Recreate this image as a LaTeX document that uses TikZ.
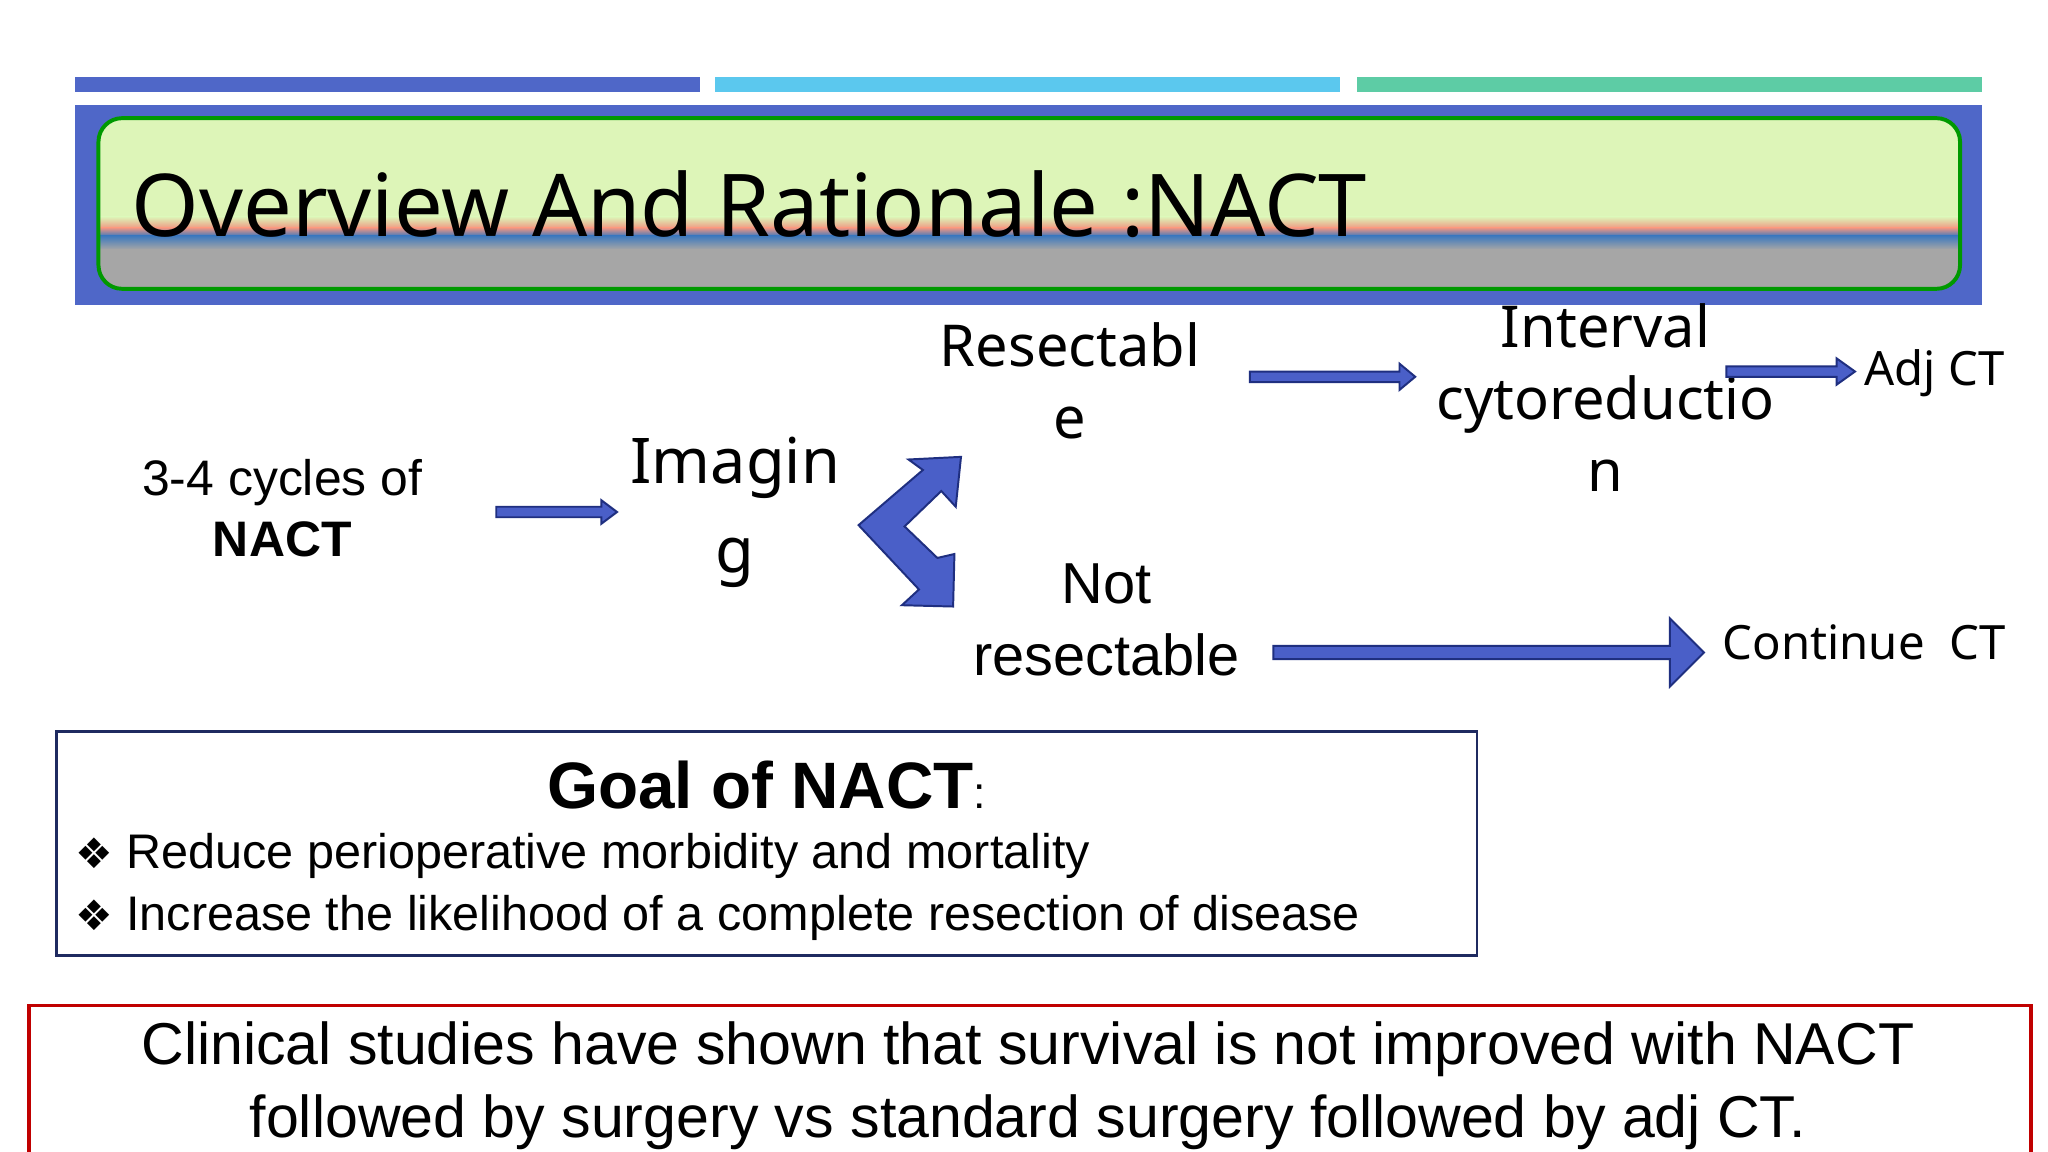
\documentclass[tikz,border=0pt]{standalone}
\usepackage{fontspec}
\setmainfont{Liberation Sans}
\newfontfamily\noto{Noto Sans}
\newfontfamily\dejavu{DejaVu Sans}
\definecolor{barblue}{HTML}{4F67C8}
\definecolor{barcyan}{HTML}{5BC8EE}
\definecolor{barteal}{HTML}{5DCCA5}
\definecolor{arrblue}{HTML}{4A5FC8}
\definecolor{arrline}{HTML}{1F2F80}
\definecolor{navy}{HTML}{1F2A60}
\definecolor{lgreen}{HTML}{DDF5B8}
\definecolor{dred}{HTML}{C00000}
\newcommand\blockarrow[6]{% x1 x2 y halfshaft halfhead headlen
  \filldraw[arrowshape] (#1,#3-#4) -- (#2-#6,#3-#4) -- (#2-#6,#3-#5) -- (#2,#3) -- (#2-#6,#3+#5) -- (#2-#6,#3+#4) -- (#1,#3+#4) -- cycle;}
\tikzset{
  arrowshape/.style={fill=arrblue, draw=arrline, line width=1.5pt, line join=miter},
  txt/.style={inner sep=0pt, align=center, text=black},
}
\begin{document}
\begin{tikzpicture}[x=1pt,y=-1pt]
\useasboundingbox (0,0) rectangle (1560,877.5);
\fill[white] (0,0) rectangle (1560,877.5);
% top bars
\fill[barblue] (57,59) rectangle (533,70);
\fill[barcyan] (545,59) rectangle (1021,70);
\fill[barteal] (1034,59) rectangle (1510,70);
% title
\fill[barblue] (57,80) rectangle (1510,232);
\begin{scope}
\clip[rounded corners=18pt] (75,90) rectangle (1493,220);
\fill[lgreen] (75,90) rectangle (1493,166);
\shade[top color=lgreen, bottom color={rgb,255:red,240;green,150;blue,130}] (75,165) rectangle (1493,174);
\shade[top color={rgb,255:red,240;green,150;blue,130}, bottom color={rgb,255:red,60;green,120;blue,190}] (75,173.5) rectangle (1493,180);
\shade[top color={rgb,255:red,60;green,120;blue,190}, bottom color={rgb,255:red,166;green,166;blue,166}] (75,179.5) rectangle (1493,190);
\fill[gray!70] (75,189.5) rectangle (1493,220);
\end{scope}
\draw[green!60!black, line width=3pt, rounded corners=18pt] (75,90) rectangle (1493,220);
\node[txt, anchor=base west, font=\noto\fontsize{66}{70}\selectfont] (title) at (100,180) {Overview And Rationale :NACT};
% flow
\node[txt, font=\fontsize{38}{47}\selectfont] (cyc) at (215,387) {3-4 cycles of\\\textbf{NACT}};
\blockarrow{378}{470}{390}{4}{9}{12}
\node[txt, font=\noto\fontsize{48}{68}\selectfont] (img) at (560,390) {Imagin\\g};
\filldraw[arrowshape] (654,400) -- (703,358) -- (692,350) -- (732,348) -- (728,386) -- (717,374) -- (689,401) -- (714,425) -- (727,422) -- (726,462) -- (687,461) -- (700,449) -- cycle;
\node[txt, font=\noto\fontsize{44}{55}\selectfont] (res) at (815,290) {Resectabl\\e};
\blockarrow{952}{1078}{287}{4}{10}{12}
\node[txt, font=\noto\fontsize{44}{55}\selectfont] (int) at (1223,303) {Interval\\cytoreductio\\n};
\blockarrow{1315}{1413}{283}{4}{10}{14}
\node[txt, anchor=west, font=\noto\fontsize{36}{40}\selectfont] (adj) at (1420,284) {Adj CT};
\node[txt, font=\fontsize{44}{55}\selectfont] (not) at (843,472) {Not\\resectable};
\blockarrow{970}{1298}{497}{5}{26}{26}
\node[txt, anchor=west, font=\noto\fontsize{36}{40}\selectfont] (cont) at (1312,489) {Continue\ \ CT};
% goal box
\draw[navy, line width=2pt] (43,557) rectangle (1125,728);
\node[txt, font=\fontsize{50}{55}\selectfont] (goal) at (584,598) {\textbf{Goal of NACT}\fontsize{34}{40}\selectfont:};
\node[txt, anchor=west, font=\fontsize{37}{40}\selectfont] (b1) at (57,652) {{\dejavu\fontsize{32}{36}\selectfont ❖} Reduce perioperative morbidity and mortality};
\node[txt, anchor=west, font=\fontsize{37}{40}\selectfont] (b2) at (57,699) {{\dejavu\fontsize{32}{36}\selectfont ❖} Increase the likelihood of a complete resection of disease};
% red box
\draw[dred, line width=2.5pt] (22,766) rectangle (1547,890);
\node[txt, font=\fontsize{45}{55}\selectfont] (clin) at (783,827) {Clinical studies have shown that survival is not improved with NACT\\followed by surgery vs standard surgery followed by adj CT.};
\end{tikzpicture}
\end{document}
